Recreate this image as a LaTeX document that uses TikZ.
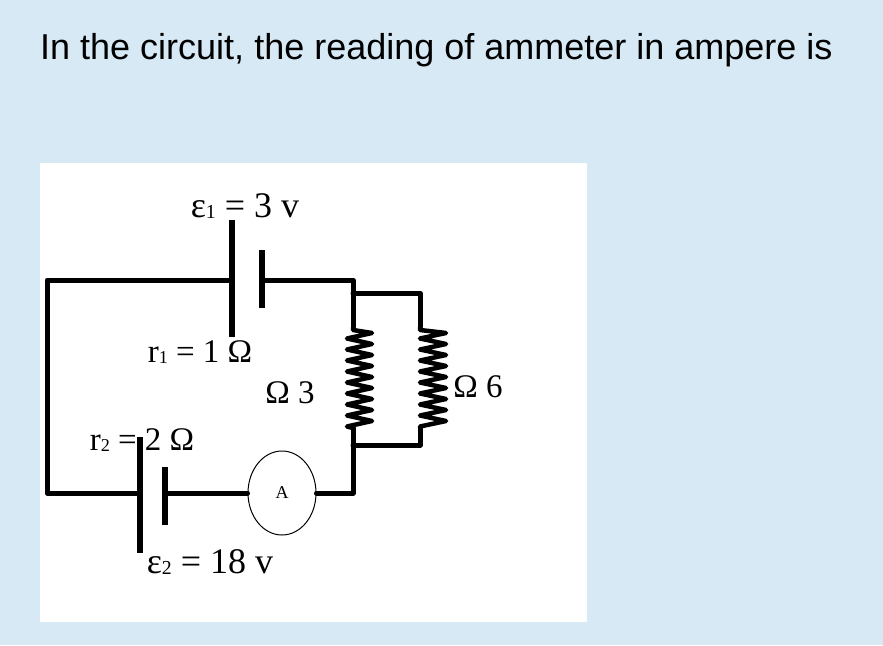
\documentclass[tikz,border=0pt]{standalone}
\usepackage{fontspec}
\usetikzlibrary{shapes.geometric}
\setmainfont{Liberation Serif}
\newfontfamily\titlefont{Liberation Sans}
\newcommand{\lowsub}[1]{\raisebox{-1pt}{\scalebox{0.55}{#1}}}
\begin{document}
\begin{tikzpicture}[x=1pt,y=-1pt,
  wire/.style={line width=5pt,line cap=round,line join=round},
  lbl/.style={font=\fontsize{33}{34}\selectfont,inner sep=0pt},
  plate/.style={line width=5.5pt}]
\useasboundingbox (0,0) rectangle (883,645);
\fill[fill={rgb,255:red,214;green,233;blue,245}] (0,0) rectangle (883,645);
\fill[white] (40,163) rectangle (587,622);
\node[font=\titlefont\fontsize{36}{38}\selectfont,anchor=west,inner sep=0pt] (title) at (40,50) {In the circuit, the reading of ammeter in ampere is};
% battery 1
\coordinate (b1l) at (232,280);
\coordinate (b1r) at (262,280);
\draw[plate] (232,220) -- (232,337);
\draw[plate] (262,250) -- (262,308);
% battery 2
\coordinate (b2l) at (140,493);
\coordinate (b2r) at (165,493);
\draw[plate] (140,437) -- (140,553);
\draw[plate] (165,467) -- (165,525);
% corners
\coordinate (tl) at (47,280);
\coordinate (bl) at (47,493);
\coordinate (tr) at (353,280);
\coordinate (br) at (353,493);
\coordinate (r1t) at (353,327);
\coordinate (r1b) at (353,428);
\coordinate (it) at (353,293);
\coordinate (ib) at (353,445);
\coordinate (it2) at (420,293);
\coordinate (ib2) at (420,445);
\coordinate (r2t) at (420,327);
\coordinate (r2b) at (420,428);
\node[draw,line width=1pt,ellipse,minimum width=68pt,minimum height=84pt,inner sep=0pt,font=\fontsize{18}{18}\selectfont] (am) at (282,493) {A};
\draw[wire] (b1l) -- (tl) -- (bl) -- (b2l);
\draw[wire] (b1r) -- (tr) -- (r1t);
\draw[wire] (r1b) -- (br) -- (am.east);
\draw[wire] (b2r) -- (am.west);
\draw[wire] (it) -- (it2) -- (r2t);
\draw[wire] (r2b) -- (ib2) -- (ib);
% resistors
\draw[line width=4.5pt,line join=round] (r1t) -- (353,330)
  \foreach \i in {0,...,8}{ -- (372,{333+\i*11}) -- (347,{338.5+\i*11})} -- (r1b);
\draw[line width=4.5pt,line join=round] (r2t) -- (420,330)
  \foreach \i in {0,...,8}{ -- (446,{333+\i*11}) -- (420,{338.5+\i*11})} -- (r2b);
% labels
\node[lbl,font=\fontsize{36}{38}\selectfont] (e1) at (245,206) {ε\lowsub{1} = 3 v};
\node[lbl] (r1) at (200,352) {r\lowsub{1} = 1 Ω};
\node[lbl] (R3) at (290,393) {Ω 3};
\node[lbl] (R6) at (478,387) {Ω 6};
\node[lbl] (r2) at (142,440) {r\lowsub{2} = 2 Ω};
\node[lbl,font=\fontsize{36}{38}\selectfont] (e2) at (210,562) {ε\lowsub{2} = 18 v};
\end{tikzpicture}
\end{document}
